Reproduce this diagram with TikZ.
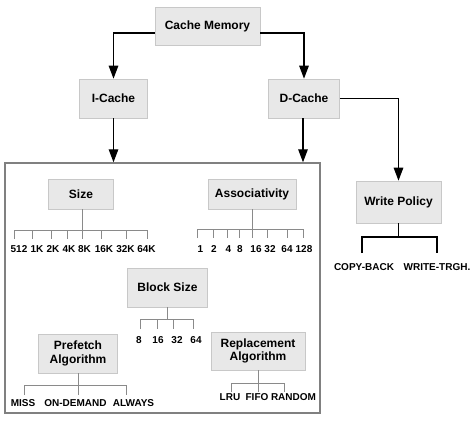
\documentclass[tikz,border=0pt]{standalone}
\usepackage{fontspec}
\setmainfont{Liberation Sans}
\usetikzlibrary{arrows.meta,calc}
\definecolor{boxfill}{HTML}{E8E8E8}
\definecolor{boxborder}{HTML}{C8C8C8}
\definecolor{frame}{HTML}{808080}
\definecolor{combgray}{HTML}{8A8A8A}
\tikzset{
  box/.style={draw=boxborder, line width=0.6pt, fill=boxfill, align=center, inner sep=0pt,
    font=\bfseries\fontsize{12}{13.5}\selectfont},
  lbl/.style={inner sep=0pt, font=\bfseries\fontsize{10}{12}\selectfont},
  link/.style={line width=1.3pt, black},
  arr/.style={line width=1.3pt, black, -{Triangle[width=9.5pt,length=13pt]}},
  comb/.style={line width=0.9pt, combgray},
  combdark/.style={line width=1.4pt, black},
  frame box/.style={draw=frame, line width=1.4pt, inner sep=0pt}
}
\begin{document}
\begin{tikzpicture}[x=1pt,y=-1pt]
\useasboundingbox (0,0) rectangle (474,424);
% main frame
\node[frame box, minimum width=315pt, minimum height=250pt] (cachebox) at (162.5,288) {};
% boxes
\node[box, minimum width=105pt, minimum height=38pt] (cm) at (207.5,26) {Cache Memory};
\node[box, minimum width=68pt, minimum height=39pt] (ic) at (113.5,98.5) {I-Cache};
\node[box, minimum width=71pt, minimum height=39pt] (dc) at (304,98.5) {D-Cache};
\node[box, minimum width=85pt, minimum height=42pt] (wp) at (398.5,202) {Write Policy};
\node[box, minimum width=65pt, minimum height=30pt] (size) at (81,194) {Size};
\node[box, minimum width=88pt, minimum height=30pt] (assoc) at (252,194) {Associativity};
\node[box, minimum width=80pt, minimum height=39pt] (block) at (167.5,287.5) {Block Size};
\node[box, minimum width=79pt, minimum height=39pt] (pref) at (78,353.5) {Prefetch\\Algorithm};
\node[box, minimum width=94pt, minimum height=38pt] (repl) at (258,351) {Replacement\\Algorithm};
% top connectors
\draw[arr] ([yshift=-7pt]cm.west) -| (ic.north);
\draw[arr] ([yshift=-7pt]cm.east) -| (dc.north);
\draw[arr] (ic.south) -- (ic.south |- cachebox.north);
\draw[arr] ([xshift=-1pt]dc.south) -- ([xshift=-1pt]dc.south |- cachebox.north);
\draw[arr] (dc.east) -| (wp.north);
% Write policy comb
\node[lbl] (cb) at (364,267) {COPY-BACK};
\node[lbl] (wt) at (437,267) {WRITE-TRGH.};
\coordinate (wpj) at (398.5,237);
\draw[combdark] (wp.south) -- (wpj);
\draw[combdark] (362,253) -- (362,237) -- (437,237) -- (437,253);
% Size comb
\draw[comb] ([xshift=1pt]size.south) -- (82,239);
\draw[comb] (14,239) -- (14,230) -- (147,230) -- (147,239);
\foreach \t in {32,51,67,101,126} \draw[comb] (\t,230) -- (\t,239);
\node[lbl] (s1) at (19,249) {512};
\node[lbl] (s2) at (37,249) {1K};
\node[lbl] (s3) at (53,249) {2K};
\node[lbl] (s4) at (69,249) {4K};
\node[lbl] (s5) at (84.5,249) {8K};
\node[lbl] (s6) at (104,249) {16K};
\node[lbl] (s7) at (125.5,249) {32K};
\node[lbl] (s8) at (146.5,249) {64K};
% Associativity comb
\draw[comb] (assoc.south) -- (252,238);
\draw[comb] (197,238) -- (197,229) -- (303,229) -- (303,238);
\foreach \t in {213,227,239,267,287} \draw[comb] (\t,229) -- (\t,238);
\node[lbl] (a1) at (200.5,249) {1};
\node[lbl] (a2) at (214,249) {2};
\node[lbl] (a3) at (228.5,249) {4};
\node[lbl] (a4) at (240,249) {8};
\node[lbl] (a5) at (256,249) {16};
\node[lbl] (a6) at (270,249) {32};
\node[lbl] (a7) at (287,249) {64};
\node[lbl] (a8) at (304,249) {128};
% Block size comb
\draw[comb] (block.south) -- (167.5,319);
\draw[comb] (140,329) -- (140,319) -- (193,319) -- (193,329);
\foreach \t in {157,173} \draw[comb] (\t,319) -- (\t,329);
\node[lbl] (b1) at (139,340) {8};
\node[lbl] (b2) at (158,340) {16};
\node[lbl] (b3) at (177,340) {32};
\node[lbl] (b4) at (196,340) {64};
% Prefetch comb
\draw[comb] (pref.south) -- (78,395);
\draw[comb] (24,395) -- (24,385) -- (126,385) -- (126,395);
\node[lbl] (p1) at (23,403) {MISS};
\node[lbl] (p2) at (75.5,403) {ON-DEMAND};
\node[lbl] (p3) at (133.5,403) {ALWAYS};
% Replacement comb
\draw[comb] (repl.south) -- (258,392);
\draw[comb] (231,392) -- (231,383) -- (284,383) -- (284,392);
\node[lbl] (r1) at (230,397) {LRU};
\node[lbl] (r2) at (257,397) {FIFO};
\node[lbl] (r3) at (293.5,397) {RANDOM};
\end{tikzpicture}
\end{document}
